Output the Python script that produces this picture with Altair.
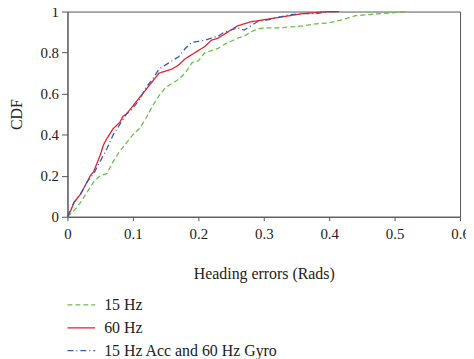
import altair as alt
import pandas as pd

series_names = ["15 Hz", "60 Hz", "15 Hz Acc and 60 Hz Gyro"]

x_15 = [0, 0.01, 0.02, 0.03, 0.04, 0.05, 0.06, 0.07, 0.08, 0.09, 0.1, 0.11, 0.12, 0.13, 0.14, 0.15,
        0.16, 0.17, 0.18, 0.19, 0.2, 0.21, 0.22, 0.23, 0.24, 0.25, 0.26, 0.27, 0.28, 0.29, 0.3, 0.32,
        0.34, 0.36, 0.38, 0.4, 0.42, 0.44, 0.46, 0.48, 0.5, 0.52]
y_15 = [0, 0.03, 0.07, 0.12, 0.17, 0.2, 0.21, 0.27, 0.32, 0.36, 0.4, 0.43, 0.48, 0.54, 0.59, 0.63,
        0.65, 0.67, 0.7, 0.75, 0.76, 0.8, 0.81, 0.82, 0.84, 0.855, 0.87, 0.88, 0.9, 0.915, 0.92, 0.92,
        0.925, 0.93, 0.94, 0.945, 0.96, 0.98, 0.985, 0.99, 0.995, 1.0]

x_60 = [0, 0.005, 0.01, 0.015, 0.02, 0.025, 0.03, 0.035, 0.04, 0.045, 0.05, 0.055, 0.06, 0.07, 0.08,
        0.085, 0.09, 0.1, 0.11, 0.12, 0.13, 0.14, 0.15, 0.16, 0.17, 0.18, 0.19, 0.2, 0.21, 0.22, 0.23,
        0.24, 0.25, 0.26, 0.27, 0.28, 0.29, 0.3, 0.31, 0.32, 0.33, 0.34, 0.36, 0.38, 0.4, 0.415]
y_60 = [0, 0.03, 0.07, 0.09, 0.11, 0.14, 0.17, 0.2, 0.22, 0.26, 0.3, 0.35, 0.38, 0.43, 0.46,
        0.49, 0.5, 0.54, 0.58, 0.62, 0.66, 0.7, 0.71, 0.72, 0.74, 0.77, 0.79, 0.81, 0.83, 0.86, 0.87,
        0.89, 0.91, 0.93, 0.94, 0.95, 0.955, 0.96, 0.965, 0.97, 0.975, 0.98, 0.99, 0.995, 1.0, 1.0]

x_mix = [0, 0.01, 0.02, 0.03, 0.04, 0.05, 0.06, 0.07, 0.08, 0.09, 0.1, 0.11, 0.12, 0.13, 0.14, 0.15,
         0.16, 0.17, 0.18, 0.19, 0.2, 0.21, 0.22, 0.23, 0.24, 0.25, 0.26, 0.27, 0.28, 0.29, 0.3, 0.32,
         0.34, 0.36, 0.38, 0.4, 0.41]
y_mix = [0, 0.07, 0.11, 0.17, 0.21, 0.27, 0.33, 0.4, 0.45, 0.5, 0.53, 0.57, 0.63, 0.67, 0.72, 0.74,
         0.76, 0.78, 0.82, 0.85, 0.855, 0.86, 0.87, 0.88, 0.9, 0.91, 0.92, 0.91, 0.93, 0.95, 0.955, 0.97,
         0.985, 0.99, 0.99, 1.0, 1.0]

x_ticks = [0, 0.1, 0.2, 0.3, 0.4, 0.5, 0.6]
y_ticks = [0, 0.2, 0.4, 0.6, 0.8, 1]

rows = []
for name, xs, ys in [(series_names[0], x_15, y_15), (series_names[1], x_60, y_60), (series_names[2], x_mix, y_mix)]:
    for i, (a, b) in enumerate(zip(xs, ys)):
        rows.append({"series": name, "x": a, "y": b, "order": i})
df = pd.DataFrame(rows)

FONT = "Liberation Serif"
colors = ["#6cbf4a", "#e8202a", "#3a5bb0"]
dashes = [[5, 3], [1, 0], [6, 3, 1, 3]]

chart = alt.Chart(df).mark_line(strokeWidth=1.3).encode(
    x=alt.X("x:Q", scale=alt.Scale(domain=[0, 0.6], nice=False),
            axis=alt.Axis(values=x_ticks, format="~g", title="Heading errors (Rads)", grid=False,
                          tickSize=4, labelPadding=6, titlePadding=24, labelFontSize=15)),
    y=alt.Y("y:Q", scale=alt.Scale(domain=[0, 1], nice=False),
            axis=alt.Axis(values=y_ticks, format="~g", title="CDF", grid=False,
                          tickSize=6, labelPadding=3, titlePadding=16, labelFontSize=15)),
    color=alt.Color("series:N", scale=alt.Scale(domain=series_names, range=colors),
                    legend=alt.Legend(title=None, orient="none", legendX=-1, legendY=281,
                                      symbolType="stroke", symbolSize=784, symbolStrokeWidth=1.3,
                                      labelOffset=8, rowPadding=-6, labelLimit=320)),
    strokeDash=alt.StrokeDash("series:N", scale=alt.Scale(domain=series_names, range=dashes), legend=None),
    order="order:Q",
    detail="series:N",
).properties(
    width=396, height=207,
    autosize="none",
    padding={"left": 60, "top": 2, "right": 6, "bottom": 150},
).configure_view(
    stroke="#555555", strokeWidth=1
).configure_axis(
    labelFont=FONT, titleFont=FONT, labelFontSize=15, titleFontSize=16,
    titleFontWeight="normal", labelColor="#222222", titleColor="#222222",
    domainColor="#555555", tickColor="#555555", labelFlush=False,
).configure_legend(
    labelFont=FONT, labelFontSize=16, labelColor="#222222"
)

chart.save("out.html", embed_options={"renderer": "svg", "actions": False})
